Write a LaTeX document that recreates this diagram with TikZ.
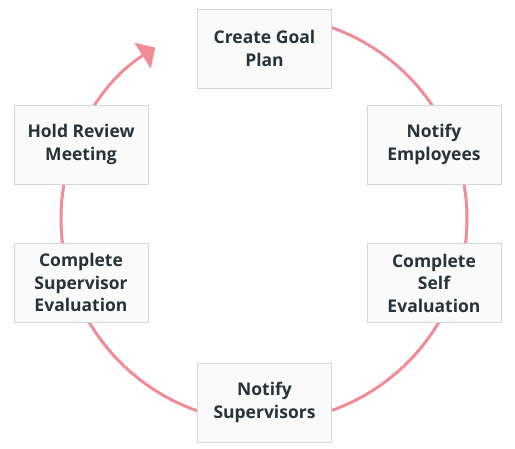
\documentclass[tikz,border=0pt]{standalone}
\usepackage{fontspec}
\setmainfont{Open Sans}
\usetikzlibrary{arrows.meta}

\definecolor{cyclered}{HTML}{F08C96}
\definecolor{boxfill}{HTML}{FAFAFA}
\definecolor{boxline}{HTML}{D6D6D6}
\definecolor{steptext}{HTML}{283339}

\tikzset{
    stepbox/.style={draw=boxline, fill=boxfill, line width=0.9pt,
        minimum width=134pt, minimum height=79pt, inner sep=2pt,
        align=center, text=steptext,
        font=\fontsize{17.5pt}{22.5pt}\selectfont\bfseries},
    cycle/.style={draw=cyclered, line width=3pt, -{Triangle[length=15pt,width=30pt]}}
}

\begin{document}
\begin{tikzpicture}[x=1pt, y=1pt]

    \useasboundingbox (0,0) rectangle (515,449);

    % the cycle behind the steps
    \coordinate (centre) at (264,230);
    \coordinate (start) at ([shift={(90:203)}]centre);
    \draw[cycle] (start) arc[start angle=90, end angle=-237.6, radius=203];

    % define nodes
    \node[stepbox] (goal) at (264.5,400.5) {Create Goal\\Plan};
    \node[stepbox] (employees) at (434,304.5) {Notify\\Employees};
    \node[stepbox] (self) at (434,166) {Complete\\Self\\Evaluation};
    \node[stepbox] (supervisors) at (264.5,46.5) {Notify\\Supervisors};
    \node[stepbox] (supeval) at (81,166.5) {Complete\\Supervisor\\Evaluation};
    \node[stepbox] (review) at (81,304.5) {Hold Review\\Meeting};

\end{tikzpicture}
\end{document}
